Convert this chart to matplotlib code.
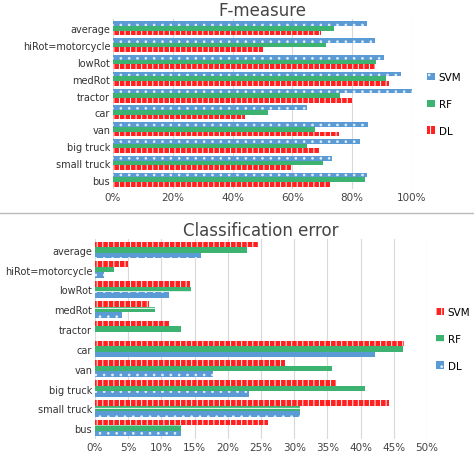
import matplotlib.pyplot as plt
import numpy as np

cats = ['average', 'hiRot=motorcycle', 'lowRot', 'medRot', 'tractor',
        'car', 'van', 'big truck', 'small truck', 'bus']

# F-measure (%)
f_svm = [85.1, 87.5, 90.6, 96.2, 100, 65, 85.3, 82.5, 73.2, 85.0]
f_rf = [73.9, 71.3, 88.0, 91.4, 75.8, 52, 67.7, 65, 70.2, 84.2]
f_dl = [69.7, 50, 87.7, 92.3, 80, 44, 75.5, 68.8, 59.4, 72.5]

# Classification error (%)
e_svm = [24.5, 4.9, 14.3, 8.2, 11.1, 46.5, 28.6, 36.3, 44.3, 26.0]
e_rf = [22.9, 2.8, 14.4, 9.1, 12.9, 46.4, 35.7, 40.6, 30.8, 13.0]
e_dl = [15.9, 1.4, 11.2, 4.1, 0, 42.2, 17.8, 23.2, 30.8, 13.0]

BLUE = '#5b9bd5'
GREEN = '#3cb371'
RED = '#ff2020'

blue_st = dict(facecolor=BLUE, edgecolor='#e4eef8', hatch='..', lw=0)
green_st = dict(facecolor=GREEN, edgecolor='white', hatch='-', lw=0)
red_st = dict(facecolor=RED, edgecolor='white', hatch='|||', lw=0)

plt.rcParams['hatch.linewidth'] = 0.7
fig = plt.figure(figsize=(4.74, 4.64), dpi=100)
y = np.arange(len(cats))[::-1]
h = 0.28


def panel(ax, vals, labels, stys, title, xmax, step):
    for k, (v, lab, st) in enumerate(zip(vals, labels, stys)):
        ax.barh(y + h * (1 - k), v, height=h, label=lab, **st)
    ax.set_yticks(y)
    ax.set_yticklabels(cats, fontsize=7, color='#333')
    ax.set_xlim(0, xmax)
    ax.set_ylim(-0.55, len(cats) - 0.45)
    ticks = np.arange(0, xmax + 0.1, step)
    ax.set_xticks(ticks)
    ax.set_xticklabels([f'{int(t)}%' for t in ticks], fontsize=7.5, color='#444')
    ax.grid(axis='x', color='#d9d9d9', lw=0.8)
    ax.set_axisbelow(True)
    for s in ax.spines.values():
        s.set_visible(False)
    ax.tick_params(length=0, pad=2)
    ax.set_title(title, fontsize=12, color='#444', pad=3)


ax1 = fig.add_axes([113 / 474, 1 - 190 / 464, 299 / 474, 170 / 464])
panel(ax1, [f_svm, f_rf, f_dl], ['SVM', 'RF', 'DL'],
      [blue_st, green_st, red_st], 'F-measure', 100, 20)
ax1.legend(loc='center left', bbox_to_anchor=(1.02, 0.5), frameon=False,
           fontsize=7.5, handlelength=0.7, handletextpad=0.4, labelspacing=1.6)

ax2 = fig.add_axes([95 / 474, 1 - 440 / 464, 332 / 474, 200 / 464])
panel(ax2, [e_svm, e_rf, e_dl], ['SVM', 'RF', 'DL'],
      [red_st, green_st, blue_st], 'Classification error', 50, 5)
ax2.legend(loc='center left', bbox_to_anchor=(1.0, 0.5), frameon=False,
           fontsize=7.5, handlelength=0.7, handletextpad=0.4, labelspacing=1.6)

fig.add_artist(plt.Line2D([0, 1], [1 - 214 / 464] * 2, color='#bbbbbb', lw=1))

fig.savefig('out.png', dpi=100)
